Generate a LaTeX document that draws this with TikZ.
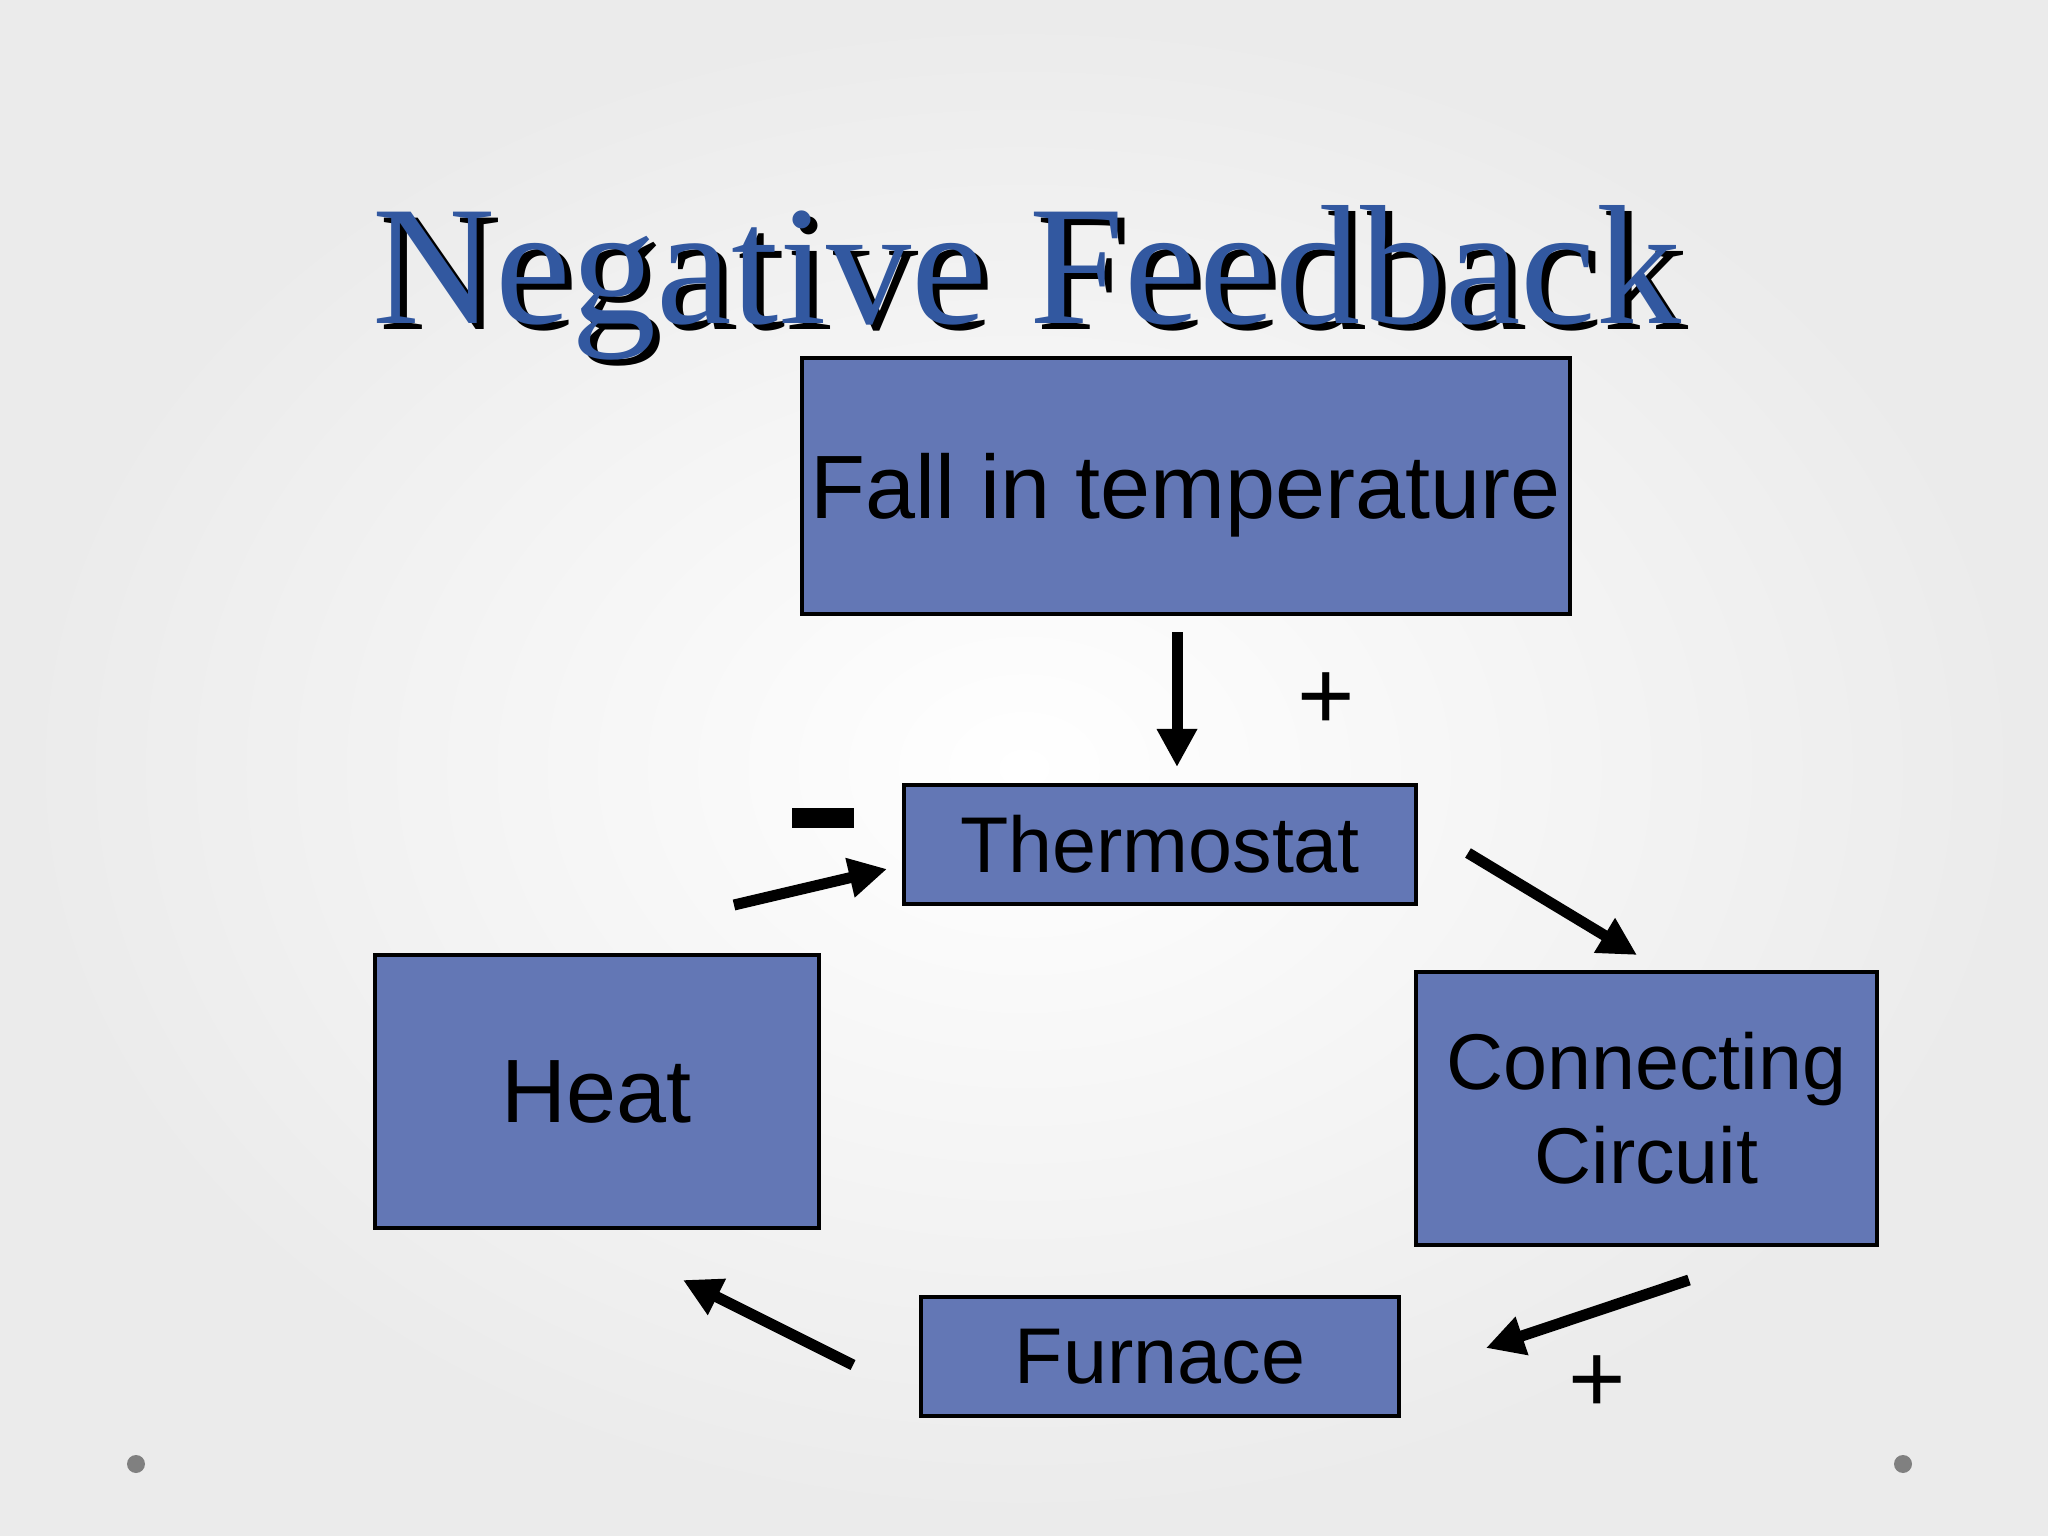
\documentclass[tikz,border=0pt]{standalone}
\usepackage{fontspec}
\setmainfont{Liberation Sans}
\newfontfamily\titlefont{Liberation Serif}
\usetikzlibrary{arrows.meta}
\definecolor{boxblue}{RGB}{99,119,181}
\definecolor{titleblue}{RGB}{50,88,160}
\definecolor{dotgray}{RGB}{128,128,128}
\newcommand{\shadowtext}[1]{%
  \makebox[0pt][l]{\hspace{0.07cm}\raisebox{-0.06cm}{\color{black}#1}}#1}
\tikzset{
  stepbox/.style={
    rectangle,
    draw=black,
    line width=0.4mm,
    fill=boxblue,
    inner sep=0pt,
    align=center,
    font=\fontsize{22.5}{26.7}\selectfont
  },
  bigbox/.style={
    stepbox,
    font=\fontsize{25.6}{30}\selectfont
  },
  flow/.style={
    line width=1.1mm,
    -{Triangle[length=0.38cm,width=0.38cm]}
  },
  sign/.style={
    inner sep=0pt,
    font=\fontsize{28}{30}\selectfont
  }
}

\begin{document}
\begin{tikzpicture}
  \useasboundingbox (0,0) rectangle (20.48,-15.36);
  \shade[inner color=white, outer color=black!8] (0,0) rectangle (20.48,-15.36);
  \fill[dotgray] (1.36,-14.64) circle (0.09);
  \fill[dotgray] (19.03,-14.64) circle (0.09);

  \node[anchor=base, text=titleblue, font=\titlefont\fontsize{48.4}{50}\selectfont]
    (title) at (10.27,-3.24) {\shadowtext{Negative Feedback}};

  \node[bigbox, text depth=0pt, minimum width=7.68cm, minimum height=2.56cm] (fall) at (11.86,-4.86) {Fall in temperature};
  \node[stepbox, minimum width=5.12cm, minimum height=1.19cm] (thermo) at (11.60,-8.445) {Thermostat};
  \node[bigbox, minimum width=4.44cm, minimum height=2.73cm] (heat) at (5.97,-10.915) {Heat};
  \node[stepbox, minimum width=4.61cm, minimum height=2.73cm] (circuit) at (16.465,-11.085) {Connecting\\Circuit};
  \node[stepbox, minimum width=4.78cm, minimum height=1.19cm] (furnace) at (11.60,-13.565) {Furnace};

  \coordinate (fall-out) at (11.77,-6.32);
  \coordinate (thermo-in) at (11.77,-7.67);
  \coordinate (thermo-out) at (14.68,-8.53);
  \coordinate (circuit-in) at (16.37,-9.55);
  \coordinate (circuit-out) at (16.89,-12.80);
  \coordinate (furnace-in) at (14.86,-13.48);
  \coordinate (furnace-out) at (8.53,-13.65);
  \coordinate (heat-in) at (6.83,-12.80);
  \coordinate (heat-out) at (7.34,-9.05);
  \coordinate (thermo-back) at (8.87,-8.69);

  \draw[flow] (fall-out) -- (thermo-in);
  \draw[flow] (thermo-out) -- (circuit-in);
  \draw[flow] (circuit-out) -- (furnace-in);
  \draw[flow] (furnace-out) -- (heat-in);
  \draw[flow] (heat-out) -- (thermo-back);

  \node[sign] (plus-top) at (13.26,-7.01) {+};
  \node[sign] (minus) at (8.23,-8.18) {\rule{0.62cm}{0.2cm}};
  \node[sign] (plus-bottom) at (15.97,-13.84) {+};
\end{tikzpicture}
\end{document}
